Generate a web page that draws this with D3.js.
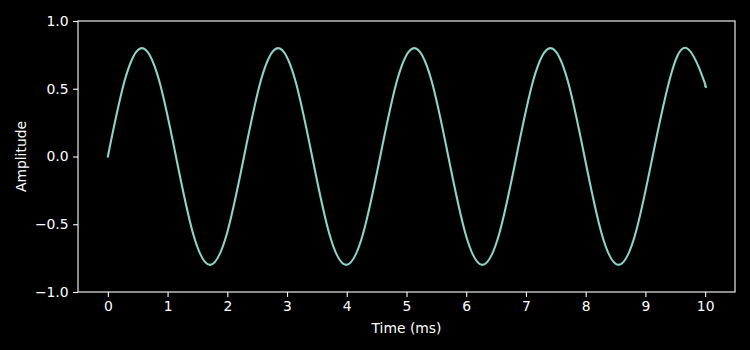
<!DOCTYPE html>
<html>
<head>
<meta charset="utf-8">
<script src="https://cdn.jsdelivr.net/npm/d3@7"></script>
<style>
  html, body { margin: 0; padding: 0; background: #000; }
  svg { display: block; }
  text { font-family: "DejaVu Sans", sans-serif; fill: #fff; }
</style>
</head>
<body>
<svg width="750" height="350"></svg>
<script>
// samples (time in ms, amplitude)
const timeMs = [0, 0.285, 0.57, 0.855, 1.14, 1.425, 1.71, 1.995, 2.28, 2.565, 2.85, 3.135,
  3.42, 3.705, 3.99, 4.275, 4.56, 4.845, 5.13, 5.415, 5.7, 5.985, 6.27, 6.555, 6.84,
  7.125, 7.41, 7.695, 7.98, 8.265, 8.55, 8.835, 9.12, 9.405, 9.69, 9.975, 10];
const amplitude = [0, 0.566, 0.8, 0.566, 0, -0.566, -0.8, -0.566, 0, 0.566, 0.8, 0.566,
  0, -0.566, -0.8, -0.566, 0, 0.566, 0.8, 0.566, 0, -0.566, -0.8, -0.566, 0,
  0.566, 0.8, 0.566, 0, -0.566, -0.8, -0.566, 0, 0.566, 0.8, 0.566, 0.52];
const xTicks = [0, 1, 2, 3, 4, 5, 6, 7, 8, 9, 10];
const yTicks = [-1, -0.5, 0, 0.5, 1];

const svg = d3.select('svg');
const plot = { left: 78, top: 21, right: 735, bottom: 292 };

const x = d3.scaleLinear().domain([-0.5, 10.5]).range([plot.left, plot.right]);
const y = d3.scaleLinear().domain([-1, 1]).range([plot.bottom, plot.top]);

const fmtY = v => d3.format('.1f')(v).replace('-', '\u2212');

// x axis
const xAxis = svg.append('g').attr('transform', 'translate(0,' + plot.bottom + ')')
  .call(d3.axisBottom(x).tickValues(xTicks).tickSize(4.9).tickPadding(4.5).tickFormat(d3.format('d')));
// y axis
const yAxis = svg.append('g').attr('transform', 'translate(' + plot.left + ',0)')
  .call(d3.axisLeft(y).tickValues(yTicks).tickSize(4.9).tickPadding(4.5).tickFormat(fmtY));

[xAxis, yAxis].forEach(function(a) {
  a.select('.domain').remove();
  a.selectAll('line').attr('stroke', '#fff').attr('stroke-width', 1.1);
  a.selectAll('text').attr('fill', '#fff').style('font-size', '13.9px')
    .style('font-family', '"DejaVu Sans", sans-serif');
});

// frame
svg.append('rect')
  .attr('x', plot.left).attr('y', plot.top)
  .attr('width', plot.right - plot.left).attr('height', plot.bottom - plot.top)
  .attr('fill', 'none').attr('stroke', '#fff').attr('stroke-width', 1.1);

// the wave
const line = d3.line()
  .x(function(d, i) { return x(timeMs[i]); })
  .y(function(d) { return y(d); })
  .curve(d3.curveNatural);

svg.append('path')
  .datum(amplitude)
  .attr('d', line)
  .attr('fill', 'none')
  .attr('stroke', '#8dd3c7')
  .attr('stroke-width', 2.1)
  .attr('stroke-linecap', 'square');

// labels
svg.append('text')
  .attr('x', (plot.left + plot.right) / 2).attr('y', 333)
  .attr('text-anchor', 'middle').style('font-size', '13.9px')
  .text('Time (ms)');

svg.append('text')
  .attr('transform', 'translate(25.5,' + (plot.top + plot.bottom) / 2 + ') rotate(-90)')
  .attr('text-anchor', 'middle').style('font-size', '13.9px')
  .text('Amplitude');
</script>
</body>
</html>
